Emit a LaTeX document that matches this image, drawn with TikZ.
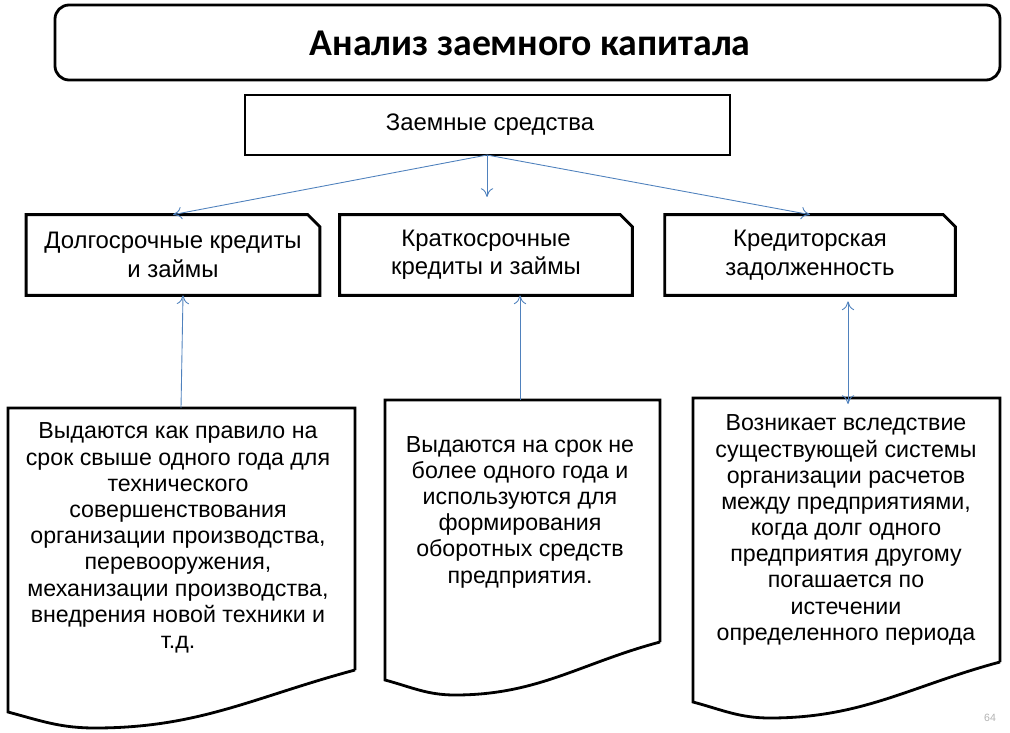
\documentclass[tikz,border=0pt]{standalone}
\usepackage{fontspec}
\setmainfont{Liberation Sans}
\newfontfamily\titlefont{Carlito}
\usetikzlibrary{arrows.meta}

\tikzset{
    box/.style={minimum width=#1, minimum height=80*0.02cm, inner sep=0pt, align=center, font=\fontsize{13.6}{16.2}\selectfont},
    doc/.style={inner sep=0pt, align=center, font=\fontsize{13.2}{14.9}\selectfont},
    outline/.style={line width=1.6pt, line join=miter},
    link/.style={draw={rgb,255:red,79;green,129;blue,189}, line width=0.5pt, -{To[length=5pt,width=7pt]}}
}

\begin{document}
\begin{tikzpicture}[x=0.02cm, y=-0.02cm]
    \useasboundingbox (0,0) rectangle (1010,733);

    % title and source
    \draw[outline, rounded corners=8pt] (55,5) rectangle (1000,80);
    \node (title) at (530,43) {\titlefont\fontsize{21.5}{24}\selectfont\bfseries Анализ заемного капитала};
    \draw[outline] (245,95) rectangle (730,155);
    \node (src) at (490,125) {\fontsize{13.6}{16}\selectfont Заемные средства};
    \coordinate (srcb) at (487,155);

    % three kinds of borrowed funds
    \node[box=293*0.02cm] (long) at (173,255) {Долгосрочные кредиты\\и займы};
    \node[box=292*0.02cm] (short) at (486,255) {Краткосрочные\\кредиты и займы};
    \node[box=290*0.02cm] (cred) at (810,255) {Кредиторская\\задолженность};
    \foreach \n in {long, short, cred}
        \draw[outline] (\n.south west) -- (\n.north west) -- ([xshift=-12*0.02cm]\n.north east)
            -- ([yshift=-12*0.02cm]\n.north east) -- (\n.south east) -- cycle;

    % descriptions
    \draw[outline] (355,670) -- (355,408) -- (8,408) -- (8,712)
        to[out=-15, in=180] (95,728) to[out=0, in=195] (355,670);
    \node[doc] (dlong) at (178,538) {Выдаются как правило на\\срок свыше одного года для\\технического\\совершенствования\\организации производства,\\перевооружения,\\механизации производства,\\внедрения новой техники и\\т.д.};
    \coordinate (dlongt) at (181,408);

    \draw[outline] (660,642) -- (660,400) -- (385,400) -- (385,680)
        to[out=-15, in=180] (455,695) to[out=0, in=195] (660,642);
    \node[doc] (dshort) at (520,512) {Выдаются на срок не\\более одного года и\\используются для\\формирования\\оборотных средств\\предприятия.};
    \coordinate (dshortt) at (520,400);

    \draw[outline] (1000,662) -- (1000,398) -- (693,398) -- (693,702)
        to[out=-15, in=180] (770,718) to[out=0, in=195] (1000,662);
    \node[doc] (dcred) at (846,530) {Возникает вследствие\\существующей системы\\организации расчетов\\между предприятиями,\\когда долг одного\\предприятия другому\\погашается по\\истечении\\определенного периода};
    \coordinate (dcredt) at (848,398);

    % links
    \draw[link] (srcb) -- (long.north);
    \draw[link] (srcb) -- (487,197);
    \draw[link] (srcb) -- (cred.north);
    \draw[link] (dlongt) -- ([xshift=10*0.02cm]long.south);
    \draw[link] (dshortt) -- ([xshift=34*0.02cm]short.south);
    \draw[link, {To[length=5pt,width=7pt]}-{To[length=5pt,width=7pt]}] ([yshift=-6*0.02cm]dcredt) -- ([xshift=38*0.02cm, yshift=-6*0.02cm]cred.south);

    \node[text=black!30, font=\fontsize{6}{7}\selectfont] (page) at (990,718) {64};
\end{tikzpicture}
\end{document}
